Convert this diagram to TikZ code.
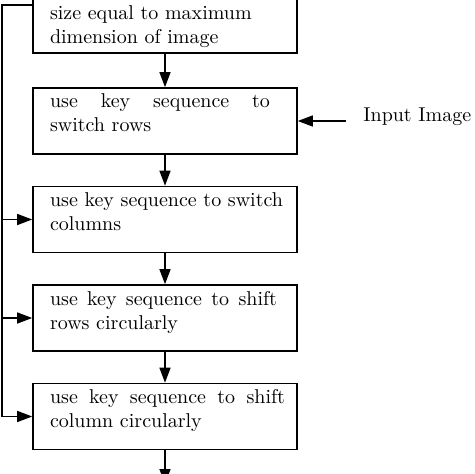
\documentclass[tikz,border=0pt]{standalone}
\usetikzlibrary{arrows.meta}
\tikzset{
  box/.style={draw, line width=0.8pt, minimum width=132pt, minimum height=33pt,
    inner xsep=0pt, inner ysep=3pt},
  conn/.style={line width=0.7pt},
  arr/.style={conn, -{Triangle[length=7.5pt,width=5.5pt]}},
}
\newcommand{\boxtext}[2]{\hspace*{2.5pt}\parbox[c][27pt][t]{117.5pt}{\rightskip=#1\relax #2}}
\begin{document}
\begin{tikzpicture}[x=0.5pt,y=-0.5pt]
\useasboundingbox (0,0) rectangle (474,474);
\clip (0,0) rectangle (474,474);
\node[box, anchor=south] (b1) at (165,54)
  {\hspace*{2.5pt}\parbox{117.5pt}{generate key sequence of\\ size equal to maximum\\ dimension of image}};
\node[box] (b2) at (165,121) {\boxtext{7.5pt}{use key sequence to\linebreak switch rows}};
\node[box] (b3) at (165,219.5) {\boxtext{0pt}{use key sequence to switch\\ columns}};
\node[box] (b4) at (165,318) {\boxtext{4pt}{use key sequence to shift\linebreak rows circularly}};
\node[box] (b5) at (165,416.5) {\boxtext{0pt}{use key sequence to shift\linebreak column circularly}};
\node[anchor=base west, inner xsep=8.5pt, inner ysep=0pt] (input) at (346,122) {Input Image};
\coordinate (fb) at (2,5);
\coordinate (out) at (165,484);
\draw[arr] (b1) -- (b2);
\draw[arr] (b2) -- (b3);
\draw[arr] (b3) -- (b4);
\draw[arr] (b4) -- (b5);
\draw[arr] (b5) -- (out);
\draw[arr] (input.west |- b2.east) -- (b2.east);
\draw[conn] (b1.west |- fb) -- (fb) -- (fb |- b5.west);
\draw[arr] (fb |- b3.west) -- (b3.west);
\draw[arr] (fb |- b4.west) -- (b4.west);
\draw[arr] (fb |- b5.west) -- (b5.west);
\end{tikzpicture}
\end{document}
